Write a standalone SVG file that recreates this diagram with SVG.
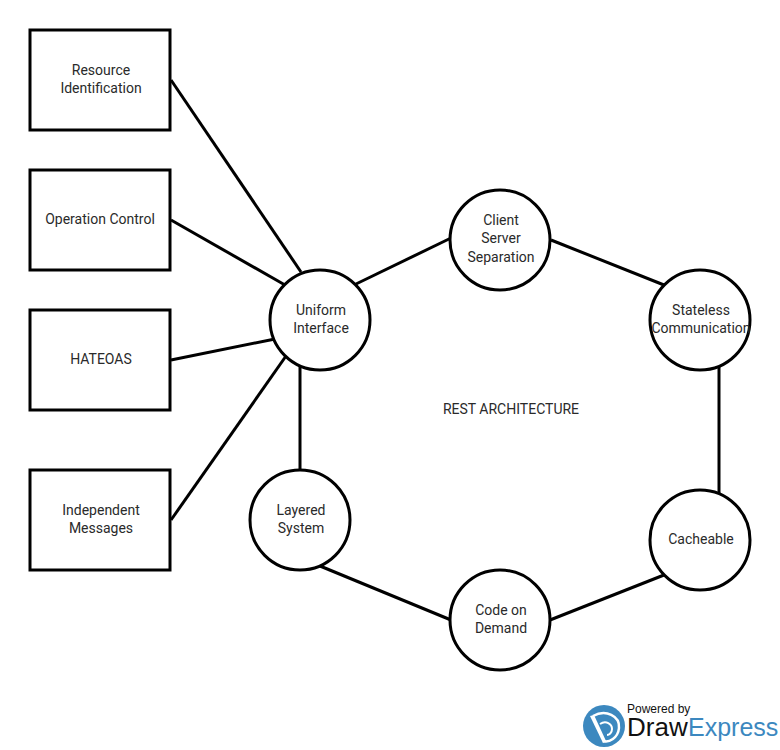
<svg xmlns="http://www.w3.org/2000/svg" width="780" height="750" viewBox="0 0 780 750">
<style>
.n{fill:#fff;stroke:#000;stroke-width:3}
.c{fill:none;stroke:#000;stroke-width:3}
.t{font-family:Roboto,"Liberation Sans",sans-serif;font-size:14px;fill:#2a2a2a;text-anchor:middle}
.l{font-family:"Liberation Sans",Arial,sans-serif}
</style>
<rect width="780" height="750" fill="#fff"/>
<g id="connectors">
<line class="c" x1="171" y1="80" x2="301" y2="272"/>
<line class="c" x1="171" y1="220" x2="285" y2="285"/>
<line class="c" x1="171" y1="360" x2="275" y2="339"/>
<line class="c" x1="171" y1="520" x2="286" y2="356"/>
<line class="c" x1="356" y1="284" x2="451" y2="238"/>
<line class="c" x1="300" y1="366" x2="300" y2="470"/>
<line class="c" x1="551" y1="240" x2="664" y2="285"/>
<line class="c" x1="719" y1="366" x2="719" y2="495"/>
<line class="c" x1="664" y1="575" x2="550" y2="620"/>
<line class="c" x1="451" y1="620" x2="320" y2="566"/>
</g>
<g id="resource-identification"><rect class="n" x="30" y="30" width="140" height="100"/><text class="t" x="101" y="75">Resource</text><text class="t" x="101" y="93">Identification</text></g>
<g id="operation-control"><rect class="n" x="30" y="170" width="140" height="100"/><text class="t" x="100" y="224">Operation Control</text></g>
<g id="hateoas"><rect class="n" x="30" y="310" width="140" height="100"/><text class="t" x="101" y="364">HATEOAS</text></g>
<g id="independent-messages"><rect class="n" x="30" y="470" width="140" height="100"/><text class="t" x="101" y="515">Independent</text><text class="t" x="101" y="533">Messages</text></g>
<g id="uniform-interface"><circle class="n" cx="320" cy="320" r="50"/><text class="t" x="321" y="315">Uniform</text><text class="t" x="321" y="333">Interface</text></g>
<g id="client-server-separation"><circle class="n" cx="500" cy="240" r="50"/><text class="t" x="501" y="225">Client</text><text class="t" x="501" y="243">Server</text><text class="t" x="501" y="262">Separation</text></g>
<g id="stateless-communication"><circle class="n" cx="700" cy="320" r="50"/><text class="t" x="701" y="315">Stateless</text><text class="t" x="701" y="333">Communication</text></g>
<g id="cacheable"><circle class="n" cx="700" cy="540" r="50"/><text class="t" x="701" y="544">Cacheable</text></g>
<g id="code-on-demand"><circle class="n" cx="500" cy="620" r="50"/><text class="t" x="501" y="615">Code on</text><text class="t" x="501" y="633">Demand</text></g>
<g id="layered-system"><circle class="n" cx="300" cy="520" r="50"/><text class="t" x="301" y="515">Layered</text><text class="t" x="301" y="533">System</text></g>
<g id="rest-architecture"><text class="t" x="511" y="414">REST ARCHITECTURE</text></g>
<g id="logo">
<circle cx="604" cy="726" r="21" fill="#3c88bf"/>
<path d="M593 716 C606 709 620 716 619 728 C618 738 609 743 603 741" fill="none" stroke="#fff" stroke-width="2.5"/>
<path d="M590 716 L594 715 L606 741 L603 743 Z" fill="#fff"/>
<path d="M600 724 C606 720 612 724 612 729 C612 733 609 735 607 735" fill="none" stroke="#fff" stroke-width="2"/>
<text class="l" x="627" y="713" font-size="12" fill="#111">Powered by</text>
<text class="l" x="627" y="736" font-size="26" fill="#111">Draw</text>
<text class="l" x="688" y="736" font-size="25" fill="#3c88bf">Express</text>
</g>
</svg>
